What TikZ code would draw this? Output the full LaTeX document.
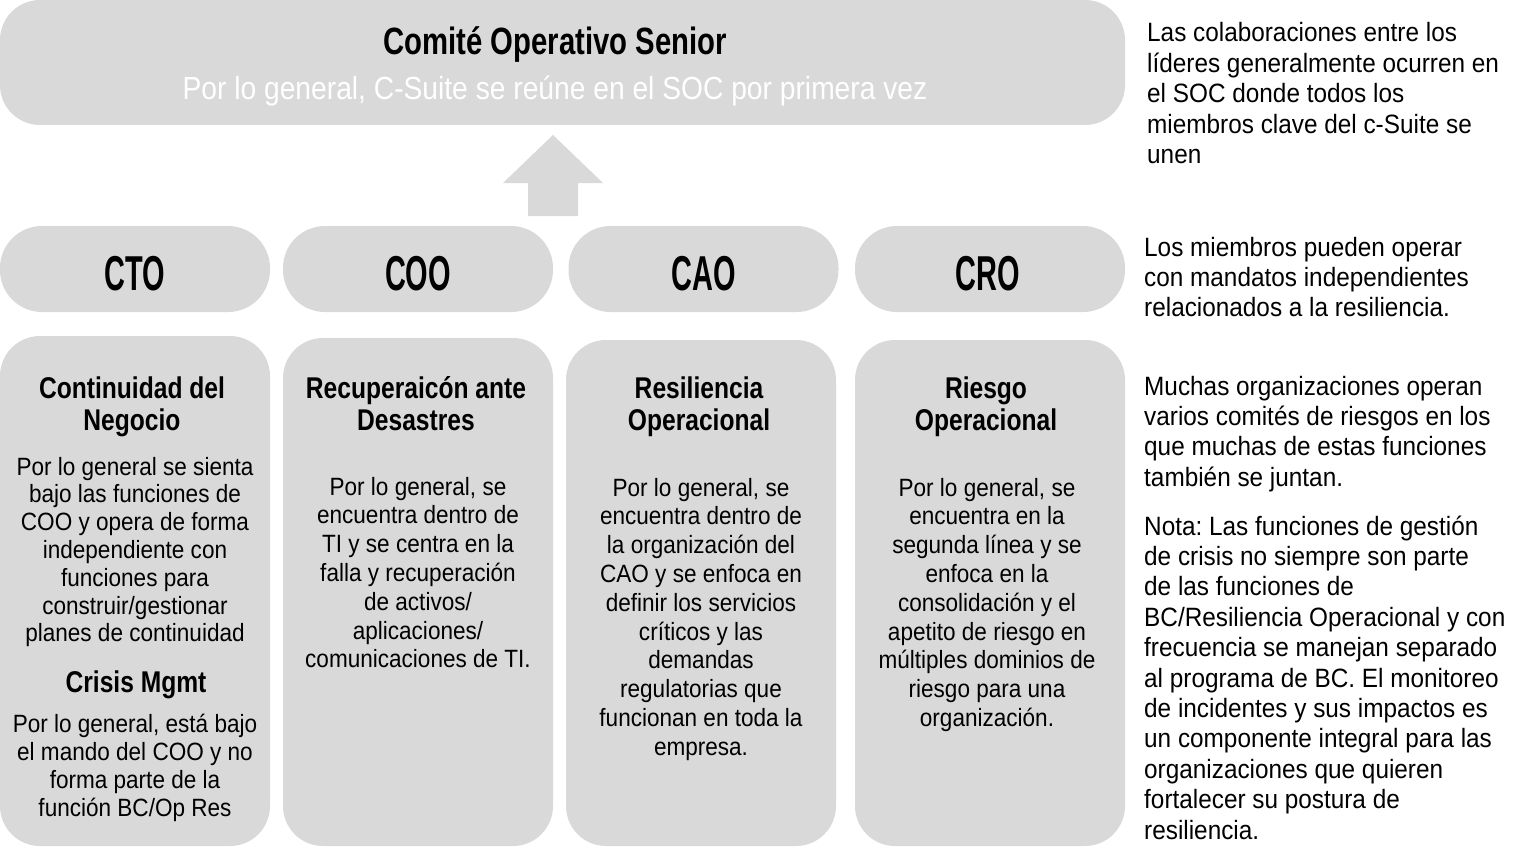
\documentclass[tikz,border=0pt]{standalone}
\usepackage{fontspec}
\IfFontExistsTF{Liberation Sans Narrow}
  {\def\fnname{Liberation Sans Narrow}\def\fsc{1}}
  {\def\fnname{Liberation Sans}\def\fsc{0.82}}
\newcommand\mkfam[2]{\edef\mktmp{\noexpand\newfontfamily\noexpand#1[FakeStretch=\fpeval{#2*\fsc}]{\fnname}}\mktmp}
\mkfam\fbig{0.72}
\mkfam\ftitle{0.94}
\mkfam\fsub{1.075}
\mkfam\fhead{1.0}
\mkfam\fbody{1.1}
\mkfam\fnote{1.12}
\setmainfont{\fnname}
\frenchspacing
\definecolor{boxgray}{HTML}{D9D9D9}
\begin{document}
\begin{tikzpicture}[x=1pt,y=-1pt,
  shapebox/.style={fill=boxgray, draw=none, inner sep=0pt, outer sep=0pt},
  pill/.style={shapebox, rounded corners=42pt, minimum width=270pt, minimum height=86pt},
  colbox/.style={shapebox, rounded corners=40pt, minimum width=270pt},
  biglabel/.style={anchor=base, inner sep=0pt, font=\fbig\bfseries\fontsize{49}{52}\selectfont},
  head/.style={anchor=base, align=center, inner sep=0pt, font=\fhead\bfseries\fontsize{30}{32.5}\selectfont},
  body/.style={anchor=base, align=center, inner sep=0pt, font=\fbody\fontsize{25}{28.8}\selectfont},
  note/.style={anchor=base west, align=left, inner sep=0pt, font=\fnote\fontsize{26.5}{30.4}\selectfont},
]
\useasboundingbox (0,0) rectangle (1536,864);

% top box
\node[shapebox, rounded corners=40pt, minimum width=1125pt, minimum height=125pt] (top) at (562.5,62.5) {};
\node[anchor=base, inner sep=0pt, font=\ftitle\bfseries\fontsize{38}{40}\selectfont] (title) at (555,55) {Comité Operativo Senior};
\node[anchor=base, inner sep=0pt, text=white, font=\fsub\fontsize{32}{34}\selectfont] (subtitle) at (555,100) {Por lo general, C-Suite se reúne en el SOC por primera vez};

% arrow
\coordinate (tip) at (553,135);
\fill[boxgray] (503,183) -- (tip) -- (603,183) -- (578,183) -- (578,216) -- (528,216) -- (528,183) -- cycle;

% pills
\node[pill] (cto) at (135,269) {};
\node[pill] (coo) at (418,269) {};
\node[pill] (cao) at (703.5,269) {};
\node[pill] (cro) at (990,269) {};
\node[biglabel] (ctol) at (135,290) {CTO};
\node[biglabel] (cool) at (418,290) {COO};
\node[biglabel] (caol) at (703.5,290) {CAO};
\node[biglabel] (crol) at (988,290) {CRO};

% column boxes
\node[colbox, minimum height=510pt] (c1) at (135,591) {};
\node[colbox, minimum height=508pt] (c2) at (418,592) {};
\node[colbox, minimum height=506pt] (c3) at (701,593) {};
\node[colbox, minimum height=506pt] (c4) at (990,593) {};

% column 1 (anchors are the baselines of the last lines)
\node[head] (h1) at (132,430.5) {Continuidad del\\Negocio};
\node[body, font=\fbody\fontsize{25}{27.8}\selectfont] (b1) at (135,641.8) {Por lo general se sienta\\bajo las funciones de\\COO y opera de forma\\independiente con\\funciones para\\construir/gestionar\\planes de continuidad};
\node[head] (h1b) at (136,692) {Crisis Mgmt};
\node[body, font=\fbody\fontsize{25}{28}\selectfont] (b1b) at (135,816) {Por lo general, está bajo\\el mando del COO y no\\forma parte de la\\función BC/Op Res};

% column 2
\node[head] (h2) at (416,430.5) {Recuperaicón ante\\Desastres};
\node[body] (b2) at (418,667.8) {Por lo general, se\\encuentra dentro de\\TI y se centra en la\\falla y recuperación\\de activos/\\aplicaciones/\\comunicaciones de TI.};

% column 3
\node[head] (h3) at (699,430.5) {Resiliencia\\Operacional};
\node[body] (b3) at (701,755.2) {Por lo general, se\\encuentra dentro de\\la organización del\\CAO y se enfoca en\\definir los servicios\\críticos y las\\demandas\\regulatorias que\\funcionan en toda la\\empresa.};

% column 4
\node[head] (h4) at (986,430.5) {Riesgo\\Operacional};
\node[body] (b4) at (987,726.4) {Por lo general, se\\encuentra en la\\segunda línea y se\\enfoca en la\\consolidación y el\\apetito de riesgo en\\múltiples dominios de\\riesgo para una\\organización.};

% right notes
\node[note] (n1) at (1147,163.6) {Las colaboraciones entre los\\líderes generalmente ocurren en\\el SOC donde todos los\\miembros clave del c-Suite se\\unen};
\node[note] (n2) at (1144,316.8) {Los miembros pueden operar\\con mandatos independientes\\relacionados a la resiliencia.};
\node[note] (n3) at (1144,486.2) {Muchas organizaciones operan\\varios comités de riesgos en los\\que muchas de estas funciones\\también se juntan.};
\node[note] (n4) at (1144,839) {Nota: Las funciones de gestión\\de crisis no siempre son parte\\de las funciones de\\BC/Resiliencia Operacional y con\\frecuencia se manejan separado\\al programa de BC. El monitoreo\\de incidentes y sus impactos es\\un componente integral para las\\organizaciones que quieren\\fortalecer su postura de\\resiliencia.};
\end{tikzpicture}
\end{document}
